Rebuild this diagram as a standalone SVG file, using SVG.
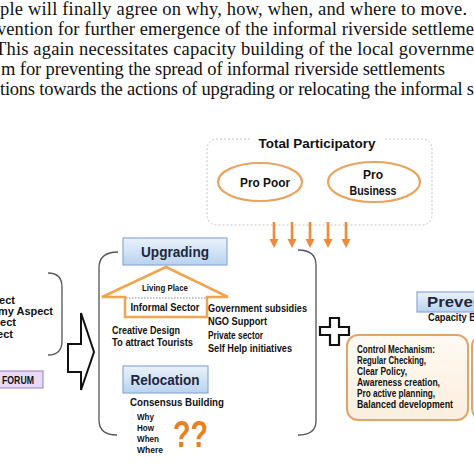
<svg xmlns="http://www.w3.org/2000/svg" width="474" height="474" viewBox="0 0 474 474">
<defs>
<linearGradient id="blue" x1="0" y1="0" x2="0" y2="1">
<stop offset="0" stop-color="#eaf2fb"/><stop offset="1" stop-color="#b9d2ef"/>
</linearGradient>
<linearGradient id="cream" x1="0" y1="0" x2="0" y2="1">
<stop offset="0" stop-color="#fffaf3"/><stop offset="1" stop-color="#fbeedd"/>
</linearGradient>
<marker id="ah" viewBox="0 0 10 10" refX="5" refY="4" markerWidth="3.2" markerHeight="3.2" orient="auto" markerUnits="strokeWidth">
<path d="M0,0 L10,0 L5,9 Z" fill="#ef8a3a" transform="rotate(-90 5 5)"/>
</marker>
</defs>
<style>
.para{font-family:"Liberation Serif",serif;font-size:18.5px;fill:#111}
.b{font-family:"Liberation Sans",Arial,sans-serif;font-weight:bold;fill:#111}
.title{font-family:"Liberation Sans",Arial,sans-serif;font-weight:bold;fill:#1d2840}
.brk{fill:none;stroke:#555;stroke-width:1.3}
.blue{fill:url(#blue);stroke:#8aaad4;stroke-width:1.2}
.orr{fill:none;stroke:#e8a35c;stroke-width:2.2}
.arr{stroke:#ef8a3a;stroke-width:2.6}
.ahd{fill:#ef8a3a}
</style>
<rect width="474" height="474" fill="#fff"/>

<g id="paragraph">
<text class="para" x="0" y="15" textLength="467" lengthAdjust="spacing">ple will finally agree on why, how, when, and where to move.</text>
<text class="para" x="-3" y="35" textLength="477" lengthAdjust="spacing">vention for further emergence of the informal riverside settleme</text>
<text class="para" x="-5" y="55" textLength="479" lengthAdjust="spacing">This again necessitates capacity building of the local governme</text>
<text class="para" x="1" y="75" textLength="444" lengthAdjust="spacing">m for preventing the spread of informal riverside settlements</text>
<text class="para" x="0" y="95" textLength="474" lengthAdjust="spacing">tions towards the actions of upgrading or relocating the informal s</text>
</g>

<g id="total-participatory">
<path d="M250,139 H218 Q207,139 207,150 V214 Q207,225 218,225 H421 Q432,225 432,214 V150 Q432,139 421,139 H383" fill="none" stroke="#c9c2b8" stroke-width="1" stroke-dasharray="2 2"/>
<text class="b" x="317" y="148" font-size="13" text-anchor="middle" textLength="117" lengthAdjust="spacingAndGlyphs">Total Participatory</text>
</g>
<g id="pro-poor">
<ellipse cx="260" cy="182" rx="42" ry="19" class="orr"/>
<text class="b" x="265" y="187" font-size="12.5" text-anchor="middle" textLength="50" lengthAdjust="spacingAndGlyphs">Pro Poor</text>
</g>
<g id="pro-business">
<ellipse cx="374" cy="182" rx="46" ry="20" class="orr"/>
<text class="b" x="373" y="179" font-size="12" text-anchor="middle" textLength="20" lengthAdjust="spacingAndGlyphs">Pro</text>
<text class="b" x="373" y="195" font-size="12" text-anchor="middle" textLength="47" lengthAdjust="spacingAndGlyphs">Business</text>
</g>

<g id="left-aspects">
<path d="M48,273 Q62,273 62,287 V341 Q62,355 48,355" class="brk" stroke="#a9b0bb"/>
<text class="b" font-size="11" x="15" y="304" text-anchor="end">ect</text>
<text class="b" font-size="11" x="53" y="315" text-anchor="end" textLength="55" lengthAdjust="spacingAndGlyphs">my Aspect</text>
<text class="b" font-size="11" x="16" y="326" text-anchor="end">ect</text>
<text class="b" font-size="11" x="13" y="338" text-anchor="end">ect</text>
</g>
<g id="forum">
<rect x="-2" y="371" width="45" height="17" fill="#e6daf5" stroke="#9b7cc4" stroke-width="1"/>
<text class="b" font-size="11.5" x="2" y="384" textLength="32" lengthAdjust="spacingAndGlyphs">FORUM</text>
</g>

<g id="connectors">
<polygon points="68,344 81,344 81,313 94,352 81,390 81,372 68,372" fill="#fff" stroke="#111" stroke-width="2" stroke-linejoin="miter"/>
<g id="down-arrows">
<line class="arr" x1="274" y1="222" x2="274" y2="240"/><polygon class="ahd" points="269.5,239 278.5,239 274,248"/>
<line class="arr" x1="292" y1="222" x2="292" y2="240"/><polygon class="ahd" points="287.5,239 296.5,239 292,248"/>
<line class="arr" x1="310" y1="222" x2="310" y2="240"/><polygon class="ahd" points="305.5,239 314.5,239 310,248"/>
<line class="arr" x1="328" y1="222" x2="328" y2="240"/><polygon class="ahd" points="323.5,239 332.5,239 328,248"/>
<line class="arr" x1="346" y1="222" x2="346" y2="240"/><polygon class="ahd" points="341.5,239 350.5,239 346,248"/>
</g>
<polygon points="330,318 339,318 339,327 349,327 349,335 339,335 339,345 330,345 330,335 320,335 320,327 330,327" fill="#fff" stroke="#111" stroke-width="2.2"/>
</g>

<g id="main-frame">
<path d="M118,252 Q99,252 99,268 V420 Q99,435 117,435" class="brk"/>
<path d="M298,250 Q316,250 316,265 V421 Q316,435 298,435" class="brk"/>
</g>

<g id="upgrading">
<rect x="123" y="238" width="104" height="27" class="blue"/>
<text class="title" x="175" y="257" font-size="15.5" text-anchor="middle" textLength="68" lengthAdjust="spacingAndGlyphs">Upgrading</text>
</g>
<g id="house">
<polygon points="125,317 125,297 102,297 166,267 228,297 207,297 207,317" fill="#fff" stroke="#f0a552" stroke-width="2.5" stroke-linejoin="miter"/>
<line x1="126" y1="298" x2="206" y2="298" stroke="#8a8a9a" stroke-width="1" stroke-dasharray="1.5 1.5"/>
<text class="b" x="165" y="291" font-size="8.5" text-anchor="middle" textLength="46" lengthAdjust="spacingAndGlyphs">Living Place</text>
<text class="b" x="165" y="311" font-size="10.5" text-anchor="middle" textLength="69" lengthAdjust="spacingAndGlyphs" font-weight="normal">Informal Sector</text>
</g>
<g id="upgrading-notes">
<text class="b" x="112" y="334" font-size="10.5" textLength="68" lengthAdjust="spacingAndGlyphs">Creative Design</text>
<text class="b" x="112" y="346" font-size="10.5" textLength="81" lengthAdjust="spacingAndGlyphs">To attract Tourists</text>
<text class="b" x="208" y="312" font-size="10.5" textLength="99" lengthAdjust="spacingAndGlyphs">Government subsidies</text>
<text class="b" x="208" y="325" font-size="10.5" textLength="59" lengthAdjust="spacingAndGlyphs">NGO Support</text>
<text class="b" x="208" y="339" font-size="10.5" textLength="55" lengthAdjust="spacingAndGlyphs">Private sector</text>
<text class="b" x="208" y="352" font-size="10.5" textLength="84" lengthAdjust="spacingAndGlyphs">Self Help initiatives</text>
</g>

<g id="relocation">
<rect x="123" y="366" width="85" height="27" class="blue"/>
<text class="title" x="165" y="385" font-size="15.5" text-anchor="middle" textLength="69" lengthAdjust="spacingAndGlyphs">Relocation</text>
</g>
<g id="consensus">
<text class="b" x="130" y="406" font-size="10" textLength="94" lengthAdjust="spacingAndGlyphs">Consensus Building</text>
<text class="b" x="137" y="420" font-size="9" textLength="17" lengthAdjust="spacingAndGlyphs">Why</text>
<text class="b" x="137" y="431" font-size="9" textLength="17" lengthAdjust="spacingAndGlyphs">How</text>
<text class="b" x="137" y="442" font-size="9" textLength="22" lengthAdjust="spacingAndGlyphs">When</text>
<text class="b" x="137" y="453" font-size="9" textLength="26" lengthAdjust="spacingAndGlyphs">Where</text>
<text x="173" y="447" font-family="Liberation Sans,Arial,sans-serif" font-weight="bold" font-size="37" fill="#e8821e" textLength="35" lengthAdjust="spacingAndGlyphs">??</text>
</g>

<g id="prevention">
<rect x="417" y="292" width="70" height="20" class="blue"/>
<text class="title" x="427" y="307" font-size="14" textLength="56" lengthAdjust="spacingAndGlyphs">Preven</text>
<text class="b" x="428" y="321" font-size="10" textLength="48" lengthAdjust="spacingAndGlyphs">Capacity B</text>
</g>
<g id="control-mechanism">
<rect x="347" y="335" width="121" height="85" rx="11" fill="url(#cream)" stroke="#e3a467" stroke-width="2"/>
<text class="b" x="357" y="353" font-size="10" textLength="78" lengthAdjust="spacingAndGlyphs">Control Mechanism:</text>
<text class="b" x="357" y="364" font-size="10" textLength="69" lengthAdjust="spacingAndGlyphs">Regular Checking,</text>
<text class="b" x="357" y="375" font-size="10" textLength="50" lengthAdjust="spacingAndGlyphs">Clear Policy,</text>
<text class="b" x="357" y="386" font-size="10" textLength="83" lengthAdjust="spacingAndGlyphs">Awareness creation,</text>
<text class="b" x="357" y="397" font-size="10" textLength="78" lengthAdjust="spacingAndGlyphs">Pro active planning,</text>
<text class="b" x="357" y="408" font-size="10" textLength="96" lengthAdjust="spacingAndGlyphs">Balanced development</text>
</g>
<g id="right-box">
<rect x="472" y="335" width="30" height="85" rx="11" fill="url(#cream)" stroke="#e3a467" stroke-width="2"/>
</g>
</svg>
